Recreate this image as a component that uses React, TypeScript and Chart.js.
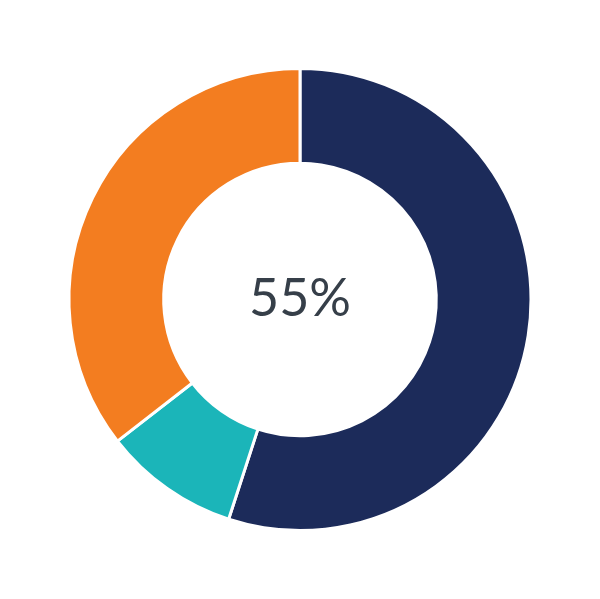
import { useEffect, useRef } from 'react'
import Chart from 'chart.js/auto'
import type { ChartConfiguration, Plugin } from 'chart.js'

const labels = ['Navy', 'Teal', 'Orange']
const values = [55, 9.5, 35.5]
const colors = ['#1c2b5a', '#1bb5b9', '#f37d20']
const centerLabel = '55%'

const centerText: Plugin<'doughnut'> = {
  id: 'centerText',
  afterDraw(chart) {
    const { ctx, chartArea } = chart
    const cx = (chartArea.left + chartArea.right) / 2
    const cy = (chartArea.top + chartArea.bottom) / 2
    ctx.save()
    ctx.font = '400 52px Lato'
    ctx.fillStyle = '#363f49'
    ctx.textAlign = 'center'
    ctx.textBaseline = 'middle'
    ctx.fillText(centerLabel, cx, cy)
    ctx.restore()
  },
}

export default function App() {
  const canvasRef = useRef<HTMLCanvasElement>(null)

  useEffect(() => {
    document.body.style.margin = '0'
    if (!canvasRef.current) return
    const config: ChartConfiguration<'doughnut'> = {
      type: 'doughnut',
      data: {
        labels,
        datasets: [
          {
            data: values,
            backgroundColor: colors,
            borderColor: '#ffffff',
            borderWidth: 3,
          },
        ],
      },
      options: {
        responsive: true,
        maintainAspectRatio: false,
        animation: false,
        cutout: '59%',
        layout: { padding: 67 },
        plugins: {
          legend: { display: false },
          tooltip: { enabled: false },
        },
      },
      plugins: [centerText],
    }
    const chart = new Chart(canvasRef.current, config)
    return () => chart.destroy()
  }, [])

  return (
    <div style={{ position: 'relative', width: 600, height: 599, background: '#fff' }}>
      <canvas ref={canvasRef} />
    </div>
  )
}
